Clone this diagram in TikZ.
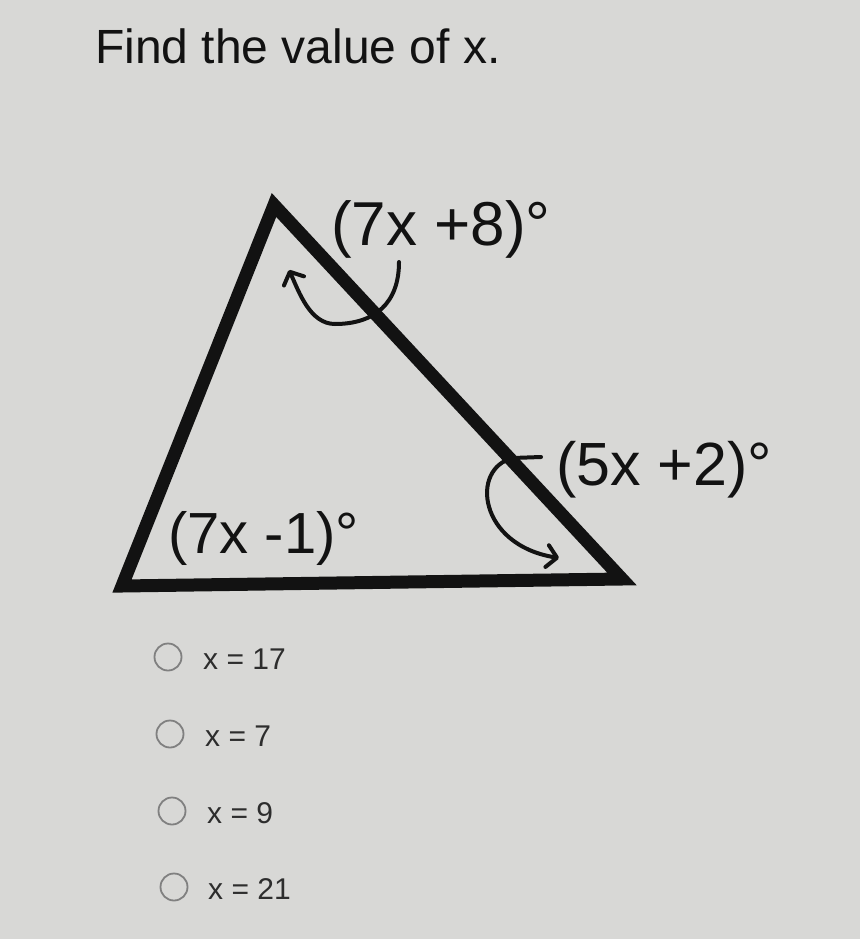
\documentclass[tikz,border=0pt]{standalone}
\usepackage{fontspec}
\setmainfont{Liberation Sans}
\usetikzlibrary{arrows.meta}
\definecolor{bg}{RGB}{216,216,214}
\definecolor{ink}{RGB}{18,18,18}
\definecolor{opt}{RGB}{45,45,45}
\definecolor{ring}{RGB}{128,128,128}
\begin{document}
\begin{tikzpicture}[x=1pt,y=-1pt,
  lbl/.style={anchor=base west, inner sep=0pt, text=ink},
  title/.style={lbl, font=\fontsize{48}{52}\selectfont},
  anglbl/.style={lbl, font=\fontsize{#1}{#1}\selectfont},
  opttext/.style={anchor=base west, inner sep=0pt, text=opt, font=\fontsize{30}{32}\selectfont},
  radio/.style={circle, draw=ring, line width=1.8pt, minimum size=27pt, inner sep=0pt},
  side/.style={draw=ink, line width=13pt, line join=miter},
  anglearrow/.style={draw=ink, line width=4pt, line cap=round,
    -{Straight Barb[length=10pt, width=22pt, line cap=round, line join=round]}}
]
\fill[bg] (0,0) rectangle (860,939);
\useasboundingbox (0,0) rectangle (860,939);

% title
\node[title] (t) at (95,64) {Find the value of x.};

% triangle
\coordinate (A) at (274,205);
\coordinate (B) at (122,586);
\coordinate (C) at (622,579);
\path[side] (A) -- (B) -- (C) -- cycle;

% angle labels
\node[anglbl=62] (la) at (331,245) {(7x +8)°};
\node[anglbl=61] (lc) at (556,485) {(5x +2)°};
\node[anglbl=58] (lb) at (168,553) {(7x -1)°};

% angle arrows
\coordinate (a0) at (399,262);
\coordinate (a1) at (335,324);
\coordinate (a2) at (289,270);
\path[anglearrow] (a0) .. controls (399,303) and (375,324) .. (a1)
  .. controls (310,324) and (299,292) .. (a2);

\coordinate (c0) at (541,457);
\coordinate (c1) at (513,458);
\coordinate (c2) at (559,558);
\path[anglearrow] (c0) -- (c1) .. controls (470,468) and (478,545) .. (c2);

% options
\node[radio] (r1) at (168,657) {};
\node[radio] (r2) at (170,734) {};
\node[radio] (r3) at (172,811) {};
\node[radio] (r4) at (174,887) {};
\node[opttext] (o1) at (203,669) {x = 17};
\node[opttext] (o2) at (205,746) {x = 7};
\node[opttext] (o3) at (207,823) {x = 9};
\node[opttext] (o4) at (208,899) {x = 21};
\end{tikzpicture}
\end{document}
